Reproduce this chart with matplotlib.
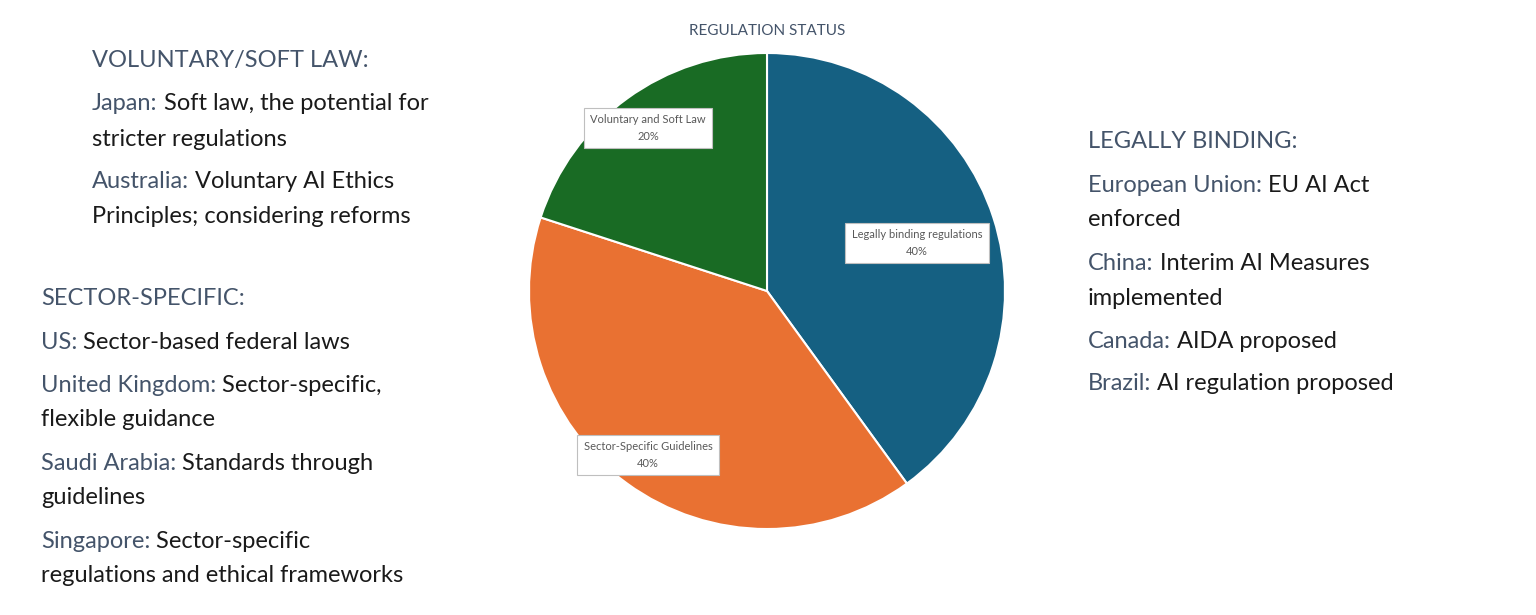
import matplotlib
matplotlib.use("Agg")
import matplotlib.pyplot as plt

categories = ["Legally binding regulations", "Sector-Specific Guidelines", "Voluntary and Soft Law"]
shares = [40, 40, 20]
colors = ["#156082", "#E97132", "#196B24"]
title = "REGULATION STATUS"

left_top_heading = "VOLUNTARY/SOFT LAW:"
left_top_items = [("Japan:", " Soft law, the potential for", "stricter regulations"),
                  ("Australia:", " Voluntary AI Ethics", "Principles; considering reforms")]
left_bot_heading = "SECTOR-SPECIFIC:"
left_bot_items = [("US:", " Sector-based federal laws", None),
                  ("United Kingdom:", " Sector-specific,", "flexible guidance"),
                  ("Saudi Arabia:", " Standards through", "guidelines"),
                  ("Singapore:", " Sector-specific", "regulations and ethical frameworks")]
right_heading = "LEGALLY BINDING:"
right_items = [("European Union:", " EU AI Act", "enforced"),
               ("China:", " Interim AI Measures", "implemented"),
               ("Canada:", " AIDA proposed", None),
               ("Brazil:", " AI regulation proposed", None)]

W, H = 1536, 615
fig = plt.figure(figsize=(W/100, H/100), dpi=100)
fig.patch.set_facecolor("white")
SLATE = "#44546A"

def fx(x): return x / W
def fy(y): return 1 - y / H

cx, cy, r = 767, 291, 238
ax = fig.add_axes([fx(cx - r), fy(cy + r), 2*r/W, 2*r/H])
ax.pie(shares, colors=colors, startangle=90, counterclock=False,
       wedgeprops=dict(edgecolor="white", linewidth=1.5))
ax.set_aspect("equal")
ax.set_xlim(-1, 1); ax.set_ylim(-1, 1)

fig.text(fx(cx), fy(31), title, ha="center", va="center", fontsize=11,
         color=SLATE, family="Lato")

box_pos = [(917, 243), (648, 455), (648, 128)]
for cat, s, (bx, by) in zip(categories, shares, box_pos):
    fig.text(fx(bx), fy(by), f"{cat}\n{s}%", ha="center", va="center",
             fontsize=8, color="#595959", family="Lato", linespacing=1.6,
             bbox=dict(boxstyle="square,pad=0.6", fc="white", ec="#BFBFBF", lw=0.8))

renderer = fig.canvas.get_renderer()
FS = 17

def block(x, y0, heading, items, step=35, gap=8):
    fig.text(fx(x), fy(y0), heading, fontsize=FS, color=SLATE, family="Lato", va="center")
    y = y0 + 44
    for lab, body, cont in items:
        t = fig.text(fx(x), fy(y), lab, fontsize=FS, color=SLATE, family="Lato", va="center")
        bb = t.get_window_extent(renderer)
        fig.text(bb.x1 / W, fy(y), body, fontsize=FS, color="#1a1a1a", family="Lato", va="center")
        if cont:
            y += step
            fig.text(fx(x), fy(y), cont, fontsize=FS, color="#1a1a1a", family="Lato", va="center")
        y += step + gap

block(92, 60, left_top_heading, left_top_items)
block(41, 298, left_bot_heading, left_bot_items)
block(1088, 141, right_heading, right_items)

fig.savefig("out.png", dpi=100, facecolor="white")
